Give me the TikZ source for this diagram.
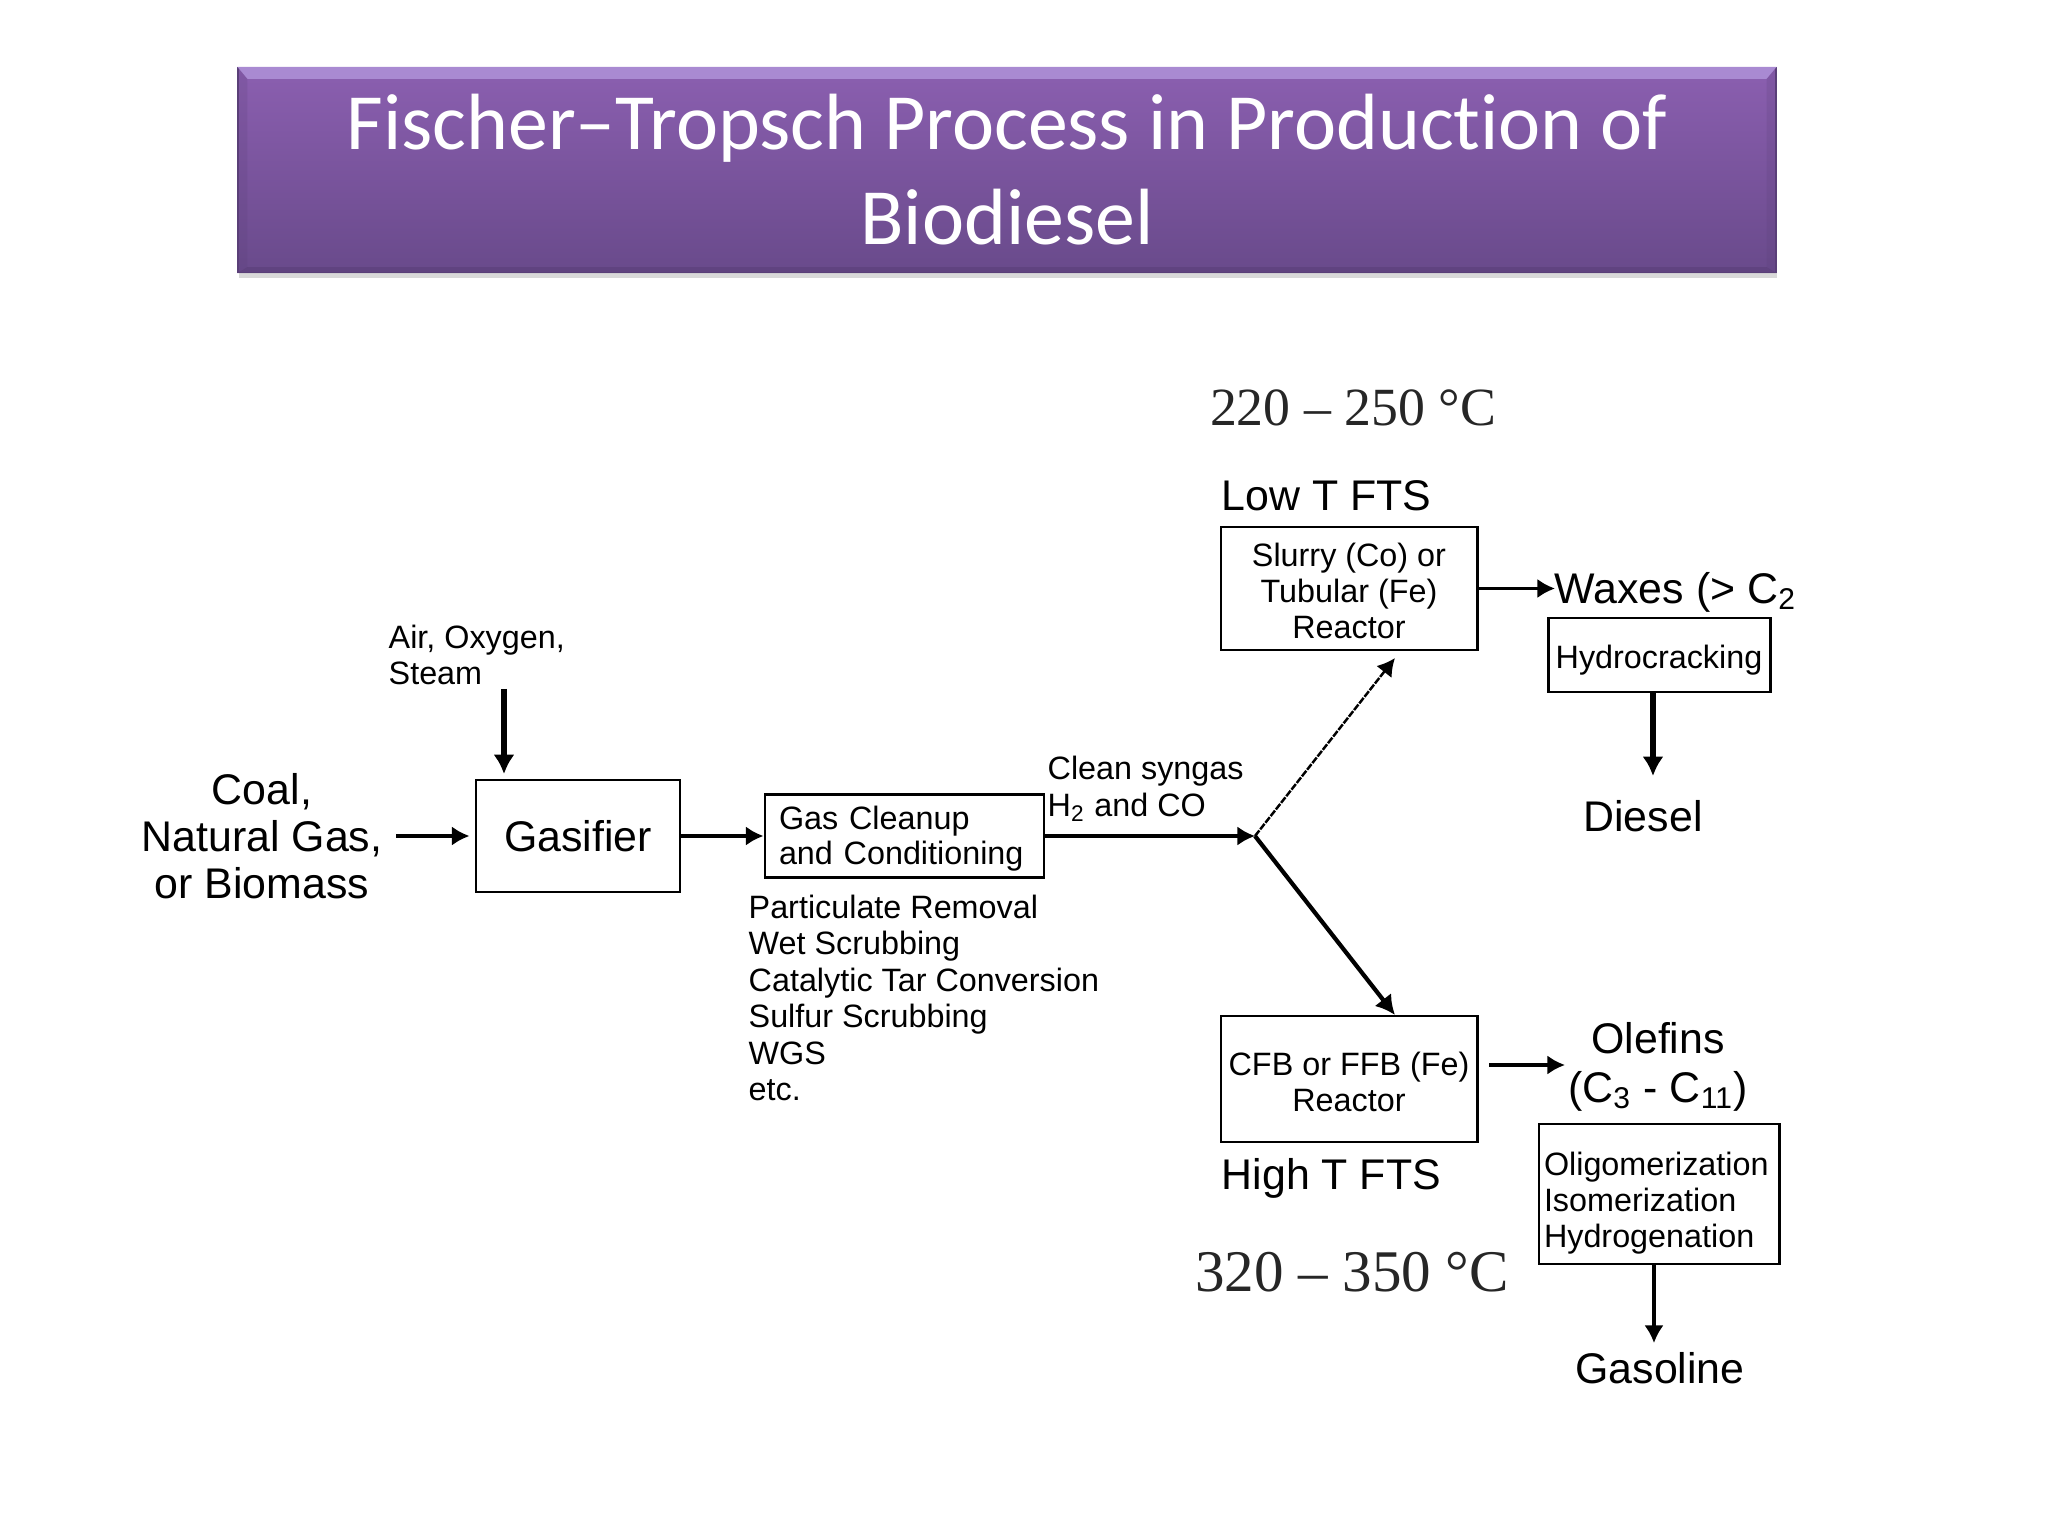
\documentclass[tikz,border=0pt]{standalone}
\usepackage{fontspec}
\setmainfont{Liberation Sans}
\newfontfamily\titlefont{Carlito}[Ligatures=NoCommon]
\newfontfamily\tempfont{Liberation Serif}
\usetikzlibrary{arrows.meta,shadows}

\definecolor{bartop}{HTML}{8B5FB0}
\definecolor{barbot}{HTML}{694A8B}
\definecolor{barlight}{HTML}{A98AD2}
\definecolor{bardark}{HTML}{5A3F78}

\tikzset{
	box/.style={draw, line width=0.85pt, inner sep=0pt, align=center, font=\fontsize{9.2}{10.2}\selectfont},
	small/.style={inner sep=0pt, align=left, font=\fontsize{9.2}{10.4}\selectfont},
	big/.style={inner sep=0pt, align=center, font=\fontsize{12.2}{13.3}\selectfont},
	temp/.style={inner sep=0pt, text=black!85, font=\tempfont\fontsize{#1}{#1}\selectfont},
	flow/.style={-{Latex[length=5pt,width=5.5pt]}, line width=0.9pt},
	heavy/.style={-{Latex[length=5.5pt,width=6pt]}, line width=1.6pt}
}

\begin{document}
\begin{tikzpicture}
\useasboundingbox (0,0) rectangle (20.48,-15.36);
%\draw[style=help lines] (0,-15.36) grid (20.48,0);

% title bar
\node (title) at (10.07,-1.70) [draw=bardark, line width=0.3pt, top color=bartop, bottom color=barbot,
	drop shadow={shadow xshift=0.2pt, shadow yshift=-1.5pt, opacity=0.3},
	minimum width=15.38cm, minimum height=2.05cm, inner sep=0pt, align=center, text=white,
	font=\titlefont\fontsize{22.7}{27}\selectfont]
	{Fischer–Tropsch Process in Production of\\Biodiesel};
\fill[barlight] (title.north west) -- (title.north east) -- ([xshift=-0.1cm,yshift=-0.12cm]title.north east)
	-- ([xshift=0.1cm,yshift=-0.12cm]title.north west) -- cycle;
\fill[bardark, opacity=0.6] (title.south west) -- (title.south east) -- ([xshift=-0.1cm,yshift=0.06cm]title.south east)
	-- ([xshift=0.1cm,yshift=0.06cm]title.south west) -- cycle;
\fill[bardark, opacity=0.2] (title.north west) -- ([xshift=0.1cm,yshift=-0.12cm]title.north west)
	-- ([xshift=0.1cm,yshift=0.06cm]title.south west) -- (title.south west) -- cycle;
\fill[bardark, opacity=0.2] (title.north east) -- ([xshift=-0.1cm,yshift=-0.12cm]title.north east)
	-- ([xshift=-0.1cm,yshift=0.06cm]title.south east) -- (title.south east) -- cycle;

% inputs
\node (feed) at (2.62,-8.36) [big] {Coal,\\Natural Gas,\\or Biomass};
\node (air) at (3.88,-6.55) [small, anchor=west] {Air, Oxygen,\\Steam};
\node (gasifier) at (5.78,-8.36) [box, minimum width=2.04cm, minimum height=1.12cm, font=\fontsize{12.2}{13.3}\selectfont] {Gasifier};
\coordinate (airtop) at (5.04,-6.89);
\coordinate (airend) at (5.04,-7.74);
\draw[heavy] (airtop)--(airend);
\draw[flow, shorten <=0.13cm, shorten >=0.05cm] (feed.east)--(gasifier.west);

% cleanup
\node (cleanup) at (9.045,-8.36) [box, minimum height=0.83cm, text width=2.51cm, inner xsep=0.14cm, align=left] {\rule{0pt}{8.2pt}Gas Cleanup\\and Conditioning};
\draw[flow] (gasifier.east)--(cleanup.west);
\node (steps) at (7.48,-9.98) [small, anchor=west] {Particulate Removal\\Wet Scrubbing\\Catalytic Tar Conversion\\Sulfur Scrubbing\\WGS\\etc.};
\node (syngas) at (10.47,-7.89) [small, anchor=west] {Clean syngas\\H\textsubscript{2} and CO};

% split
\coordinate (split) at (12.55,-8.36);
\draw[flow] (cleanup.east)--(split);

% low temperature branch
\node (lowtemp) at (13.53,-4.08) [temp=15.3] {220 – 250 °C};
\node (lowfts) at (12.21,-4.96) [big, anchor=west] {Low T FTS};
\node (slurry) at (13.49,-5.885) [box, minimum width=2.56cm, minimum height=1.23cm] {\rule{0pt}{8.2pt}Slurry (Co) or\\Tubular (Fe)\\Reactor};
\coordinate (slurryin) at (13.95,-6.58);
\draw[flow, line width=0.7pt, dash pattern=on 2pt off 0.4pt] (split)--(slurryin);
\node (waxes) at (15.54,-5.92) [big, anchor=west] {Waxes (> C\textsubscript{2}};
\coordinate (waxesin) at (15.55,-5.885);
\draw[flow] (slurry.east)--(waxesin);
\node (hydro) at (16.59,-6.55) [box, minimum width=2.22cm, minimum height=0.74cm] {\rule{0pt}{9.7pt}Hydrocracking};
\node (diesel) at (16.43,-8.16) [big] {Diesel};
\coordinate (hydroout) at (16.53,-6.92);
\coordinate (dieselin) at (16.53,-7.76);
\draw[heavy] (hydroout)--(dieselin);

% high temperature branch
\node (cfb) at (13.49,-10.79) [box, minimum width=2.56cm, minimum height=1.26cm] {\rule{0pt}{8.2pt}CFB or FFB (Fe)\\Reactor};
\coordinate (cfbin) at (13.95,-10.15);
\draw[heavy, line width=1.2pt] (split)--(cfbin);
\node (highfts) at (12.21,-11.78) [big, anchor=west] {High T FTS};
\node (hightemp) at (13.52,-12.72) [temp=16.8] {320 – 350 °C};
\node (olefins) at (16.58,-10.67) [big, font=\fontsize{12.2}{13.8}\selectfont] {Olefins\\(C\textsubscript{3} - C\textsubscript{11})};
\coordinate (cfbout) at (14.89,-10.65);
\coordinate (olefinsin) at (15.65,-10.65);
\draw[flow] (cfbout)--(olefinsin);
\node (upgrade) at (16.59,-11.94) [box, minimum height=1.40cm, text width=2.30cm, inner xsep=0.05cm, align=left] {\rule{0pt}{12pt}Oligomerization\\Isomerization\\Hydrogenation};
\node (gasoline) at (16.60,-13.68) [big] {Gasoline};
\coordinate (upgradeout) at (16.54,-12.64);
\coordinate (gasolinein) at (16.54,-13.43);
\draw[flow] (upgradeout)--(gasolinein);

\end{tikzpicture}
\end{document}
